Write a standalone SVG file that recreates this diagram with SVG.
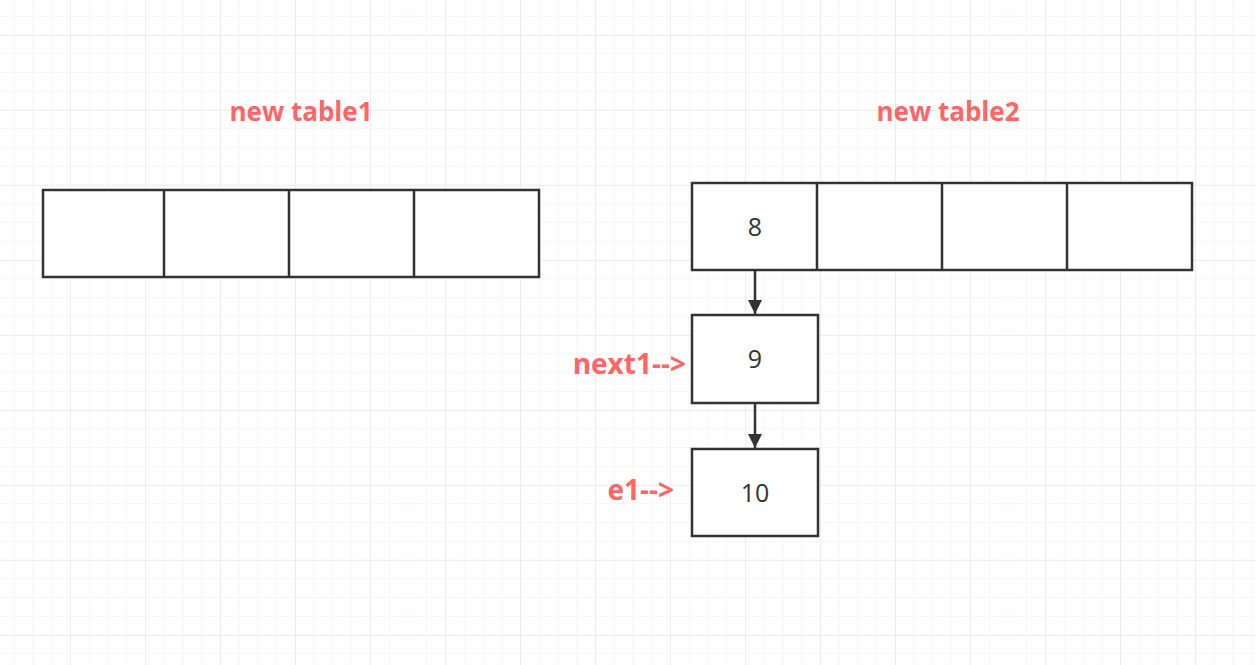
<svg xmlns="http://www.w3.org/2000/svg" width="1256" height="665" viewBox="0 0 1256 665">
<defs>
<pattern id="minor" x="-4" y="-2" width="18.75" height="18.75" patternUnits="userSpaceOnUse"><path d="M18.75 0V18.75M0 18.75H18.75" fill="none" stroke="#f0f0f0" stroke-width="1"/></pattern>
<pattern id="major" x="-4" y="-39" width="75" height="75" patternUnits="userSpaceOnUse"><path d="M75 0V75M0 75H75" fill="none" stroke="#e2e2e2" stroke-width="1"/></pattern>
<marker id="arr" markerWidth="14" markerHeight="14" refX="14" refY="7" orient="auto" markerUnits="userSpaceOnUse"><path d="M0 0L14 7L0 14Z" fill="#333"/></marker>
</defs>
<style>
.b{fill:#fff;stroke:#333;stroke-width:2.5}
.t{font-family:"Open Sans","Liberation Sans",sans-serif;font-size:25px;fill:#333;text-anchor:middle}
.r{font-family:"Open Sans","Liberation Sans",sans-serif;font-size:26px;font-weight:bold;fill:#ff6666}
.l{font-size:28px;text-anchor:end}
</style>
<rect width="1256" height="665" fill="#fff"/>
<rect width="1256" height="665" fill="url(#minor)"/>
<rect width="1256" height="665" fill="url(#major)"/>
<text class="r" x="301" y="121" text-anchor="middle">new table1</text>
<text class="r" x="948" y="121" text-anchor="middle">new table2</text>
<g id="table1">
<rect class="b" x="43" y="190" width="496" height="87"/>
<path d="M164 190V277M289 190V277M414 190V277" stroke="#333" stroke-width="2.5"/>
</g>
<g id="table2">
<rect class="b" x="692" y="183" width="500" height="87"/>
<path d="M817 183V270M942 183V270M1067 183V270" stroke="#333" stroke-width="2.5"/>
<text class="t" x="755" y="236">8</text>
</g>
<g id="node9"><rect class="b" x="692" y="315" width="126" height="88"/><text class="t" x="755" y="368">9</text></g>
<g id="node10"><rect class="b" x="692" y="449" width="126" height="87"/><text class="t" x="755" y="502">10</text></g>
<g id="labels">
<text class="r l" x="686" y="374">next1--&gt;</text>
<text class="r l" x="674" y="500">e1--&gt;</text>
</g>
<g id="connectors" stroke="#333" stroke-width="2.5" fill="none">
<path d="M755 270V314" marker-end="url(#arr)"/>
<path d="M755 403V448" marker-end="url(#arr)"/>
</g>
</svg>
